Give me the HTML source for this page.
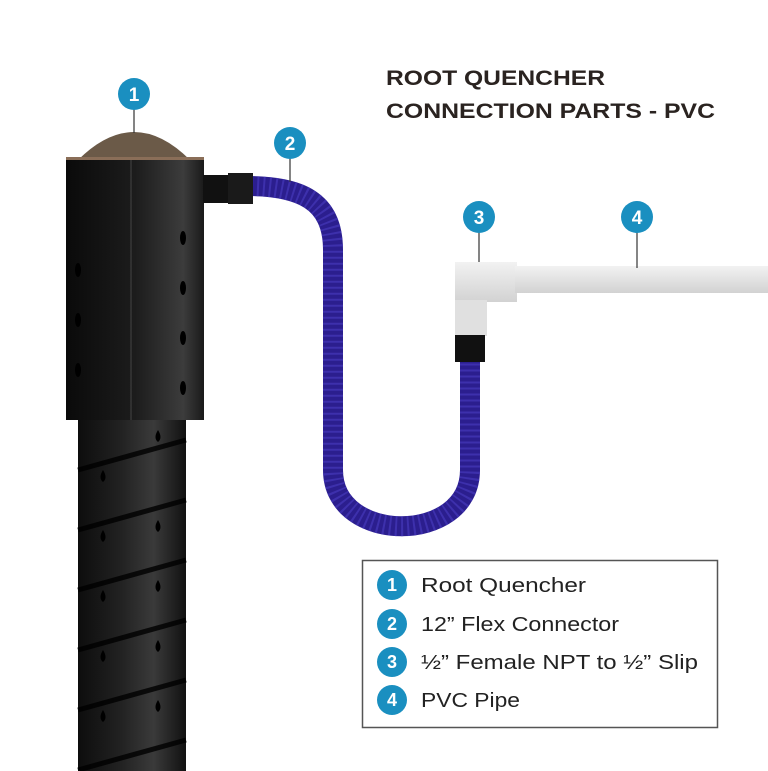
<!DOCTYPE html>
<html><head><style>
body{margin:0;background:#fff;width:768px;height:771px;overflow:hidden}
svg{display:block}
text{font-family:"Liberation Sans",sans-serif}
</style></head><body>
<svg width="768" height="771" viewBox="0 0 768 771">
<defs>
<linearGradient id="pg" x1="0" x2="1"><stop offset="0" stop-color="#0d0d0d"/><stop offset="0.4" stop-color="#222"/><stop offset="0.7" stop-color="#3a3a3a"/><stop offset="1" stop-color="#111"/></linearGradient>
<linearGradient id="cg" x1="0" x2="1"><stop offset="0" stop-color="#0a0a0a"/><stop offset="0.5" stop-color="#1c1c1c"/><stop offset="0.85" stop-color="#3c3c3c"/><stop offset="1" stop-color="#1a1a1a"/></linearGradient>
<linearGradient id="wg" x1="0" y1="0" x2="0" y2="1"><stop offset="0" stop-color="#f2f2f2"/><stop offset="1" stop-color="#d2d2d2"/></linearGradient>
</defs>
<text x="386" y="85" font-size="21" font-weight="bold" fill="#2a2320" textLength="219" lengthAdjust="spacingAndGlyphs">ROOT QUENCHER</text>
<text x="386" y="118" font-size="21" font-weight="bold" fill="#2a2320" textLength="329" lengthAdjust="spacingAndGlyphs">CONNECTION PARTS - PVC</text>
<rect x="78" y="415" width="108" height="356" fill="url(#pg)"/>
<g stroke="#000" stroke-width="5" fill="none" opacity="0.8">
<path d="M78 470 L186 440"/><path d="M78 530 L186 500"/><path d="M78 590 L186 560"/><path d="M78 650 L186 620"/><path d="M78 710 L186 680"/><path d="M78 770 L186 740"/>
</g>
<g fill="#000">
<path d="M103 470 q-5 8 0 12 q5-4 0-12z"/><path d="M158 430 q-5 8 0 12 q5-4 0-12z"/>
<path d="M103 530 q-5 8 0 12 q5-4 0-12z"/><path d="M158 520 q-5 8 0 12 q5-4 0-12z"/>
<path d="M103 590 q-5 8 0 12 q5-4 0-12z"/><path d="M158 580 q-5 8 0 12 q5-4 0-12z"/>
<path d="M103 650 q-5 8 0 12 q5-4 0-12z"/><path d="M158 640 q-5 8 0 12 q5-4 0-12z"/>
<path d="M103 710 q-5 8 0 12 q5-4 0-12z"/><path d="M158 700 q-5 8 0 12 q5-4 0-12z"/>
</g>
<path d="M78 160 Q134 104 190 160 Z" fill="#6b5a48"/>
<rect x="66" y="158" width="138" height="262" fill="url(#cg)"/>
<rect x="66" y="157" width="138" height="3" fill="#8a6e58"/>
<line x1="131" y1="160" x2="131" y2="420" stroke="#444" stroke-width="1"/>
<g fill="#000">
<ellipse cx="78" cy="270" rx="3" ry="7"/><ellipse cx="78" cy="320" rx="3" ry="7"/><ellipse cx="78" cy="370" rx="3" ry="7"/>
<ellipse cx="183" cy="238" rx="3" ry="7"/><ellipse cx="183" cy="288" rx="3" ry="7"/><ellipse cx="183" cy="338" rx="3" ry="7"/><ellipse cx="183" cy="388" rx="3" ry="7"/>
</g>
<path d="M245 186 C300 186 333 200 333 250 L333 470 C333 545 470 545 470 470 L470 360" stroke="#2b1e8e" stroke-width="20" fill="none"/>
<path d="M245 186 C300 186 333 200 333 250 L333 470 C333 545 470 545 470 470 L470 360" stroke="#4a3cc0" stroke-width="20" stroke-dasharray="2 4" fill="none" opacity="0.6"/>
<rect x="203" y="175" width="25" height="28" fill="#111"/>
<rect x="228" y="173" width="25" height="31" fill="#1a1a1a"/>
<rect x="455" y="262" width="62" height="40" fill="url(#wg)"/>
<rect x="455" y="300" width="32" height="36" fill="#e0e0e0"/>
<rect x="515" y="266" width="253" height="27" fill="url(#wg)"/>
<rect x="455" y="335" width="30" height="27" fill="#111"/>
<g stroke="#333" stroke-width="1.2"><line x1="134" y1="100" x2="134" y2="133"/><line x1="290" y1="150" x2="290" y2="182"/><line x1="479" y1="222" x2="479" y2="262"/><line x1="637" y1="222" x2="637" y2="268"/></g>
<g fill="#1a8fc0"><circle cx="134" cy="94" r="16"/><circle cx="290" cy="143" r="16"/><circle cx="479" cy="217" r="16"/><circle cx="637" cy="217" r="16"/></g>
<g fill="#fff" font-size="19" font-weight="bold" text-anchor="middle"><text x="134" y="101">1</text><text x="290" y="150">2</text><text x="479" y="224">3</text><text x="637" y="224">4</text></g>
<rect x="362.5" y="560.5" width="355" height="167" fill="#fff" stroke="#555" stroke-width="1.5"/>
<g fill="#1a8fc0"><circle cx="392" cy="585" r="15"/><circle cx="392" cy="624" r="15"/><circle cx="392" cy="662" r="15"/><circle cx="392" cy="700" r="15"/></g>
<g fill="#fff" font-size="18" font-weight="bold" text-anchor="middle"><text x="392" y="591">1</text><text x="392" y="630">2</text><text x="392" y="668">3</text><text x="392" y="706">4</text></g>
<g fill="#222" font-size="20" lengthAdjust="spacingAndGlyphs">
<text x="421" y="592" textLength="165" lengthAdjust="spacingAndGlyphs">Root Quencher</text>
<text x="421" y="631" textLength="198" lengthAdjust="spacingAndGlyphs">12” Flex Connector</text>
<text x="421" y="669" textLength="277" lengthAdjust="spacingAndGlyphs">½” Female NPT to ½” Slip</text>
<text x="421" y="707" textLength="99" lengthAdjust="spacingAndGlyphs">PVC Pipe</text></g>
</svg>
</body></html>
